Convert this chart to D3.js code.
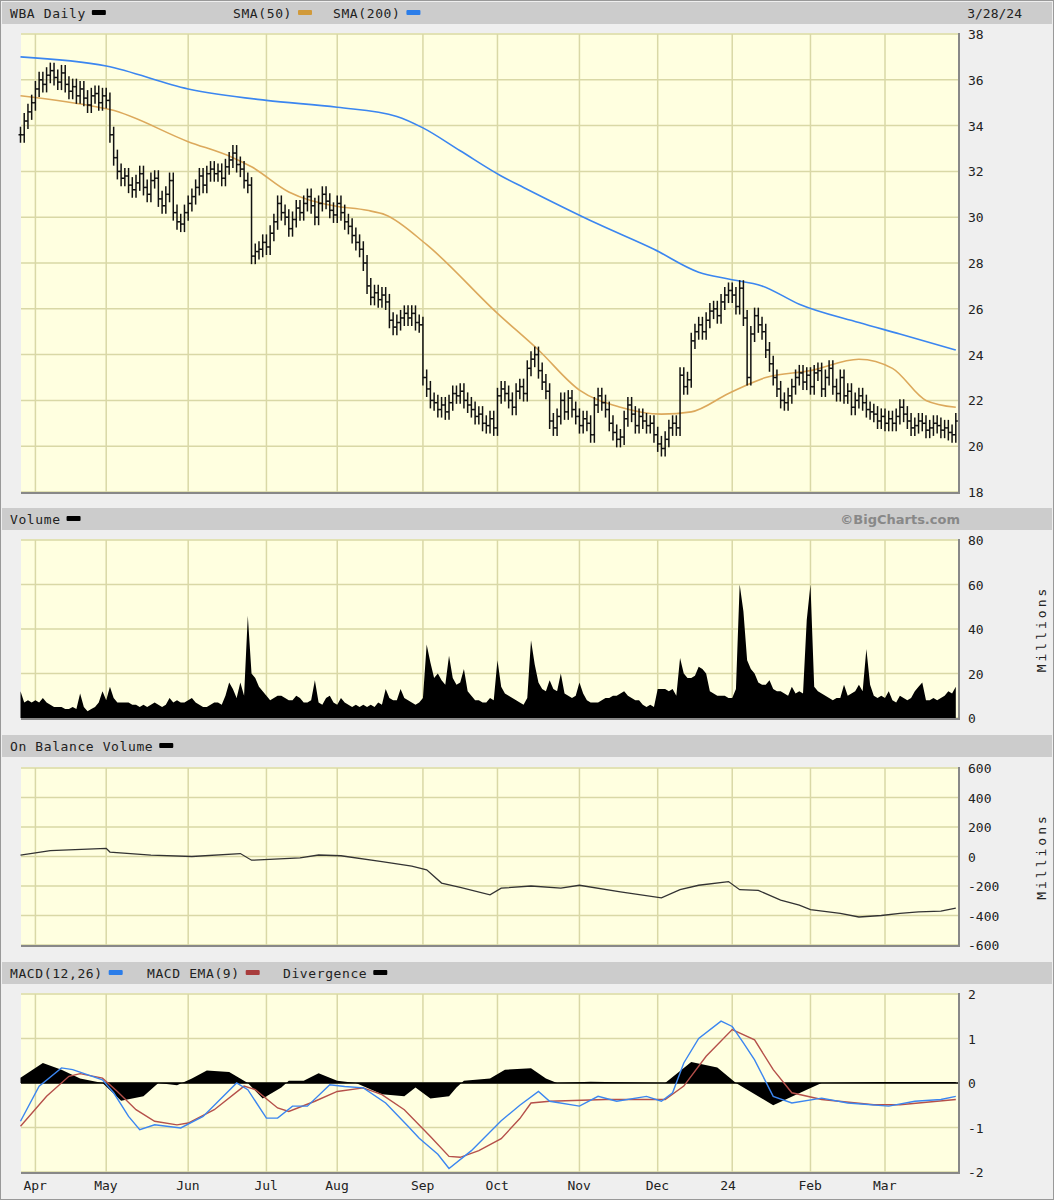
<!DOCTYPE html>
<html><head><meta charset="utf-8">
<script src="https://cdn.jsdelivr.net/npm/d3@7"></script>
<style>
body { margin:0; background:#fff; }
text { font-family: "DejaVu Sans Mono", monospace; font-size:13px; fill:#222; }
</style></head>
<body>
<svg id="chart" width="1054" height="1200"></svg>
<script>
// month tick labels and the trading-day index where each month starts
var monthLabels = ["Apr","May","Jun","Jul","Aug","Sep","Oct","Nov","Dec","24","Feb","Mar"];
var monthDays = [4,23,45,66,85,108,128,150,171,191,212,232];

// daily closes, Mar 28 2023 .. Mar 28 2024
var closes = [
  33.6,34.2,34.6,35.0,
  35.6,36.0,35.8,36.2,36.4,36.1,35.9,36.3,35.8,35.5,35.7,35.3,35.6,35.2,34.9,35.3,35.4,35.0,35.3,
  35.1,33.6,32.6,32.0,31.7,31.8,31.4,31.2,31.5,31.9,31.3,31.0,31.6,31.7,30.8,30.5,31.0,31.6,30.2,29.8,29.7,30.2,
  30.6,30.9,31.3,31.8,31.4,31.9,32.1,31.9,32.0,31.7,32.2,32.5,32.8,32.3,32.1,31.6,31.4,28.3,28.5,28.6,28.9,
  28.7,29.3,29.8,30.6,30.2,30.0,29.5,29.9,30.4,30.2,30.6,30.9,30.5,30.0,30.6,31.0,30.7,30.3,30.1,
  30.6,30.2,29.8,29.6,29.2,28.9,28.6,28.0,27.0,26.5,26.7,26.4,26.6,26.3,25.5,25.2,25.4,25.6,25.8,25.6,25.8,25.4,25.3,
  23.0,22.5,22.0,21.9,21.6,21.8,21.5,21.9,22.3,22.2,22.4,22.0,21.8,21.6,21.3,21.4,21.0,20.9,21.2,20.8,
  22.2,22.5,22.3,22.0,21.7,22.4,22.6,22.3,23.4,23.8,24.0,23.3,22.8,22.4,21.1,20.8,21.3,22.0,21.5,22.1,21.6,21.3,
  20.9,21.2,21.0,20.5,21.8,22.2,21.9,21.6,21.0,20.6,20.3,20.4,21.2,21.8,21.4,20.9,21.3,21.1,20.9,21.0,20.5,
  20.1,19.9,20.3,20.8,21.0,20.8,23.1,22.6,22.9,24.6,25.0,25.3,25.0,25.5,25.9,26.0,25.7,26.3,26.6,26.8,
  26.6,26.1,26.9,25.6,23.0,24.9,25.7,25.3,25.0,24.2,23.6,23.0,22.5,22.0,21.9,22.2,22.6,23.0,23.2,22.8,23.1,
  22.6,23.2,23.3,22.5,23.0,23.4,22.6,22.3,23.0,22.2,22.4,21.7,22.0,22.2,21.9,21.6,21.5,21.4,21.1,21.3,
  21.0,21.2,21.0,21.3,21.7,21.4,21.1,20.8,20.9,21.1,21.0,20.7,20.8,21.0,20.9,20.7,20.8,20.6,20.5,21.1
];
var wick = 0.35;

// daily volume, millions
var volumes = [
  12,7,8,7,
  8,7,9,7,6,5,5,5,4,4,5,4,11,5,3,4,5,7,12,
  8,14,9,7,7,7,7,6,6,5,6,5,6,7,6,5,6,9,7,8,7,7,
  8,9,7,6,5,5,6,7,7,6,10,16,13,9,16,10,46,20,18,14,12,
  10,8,9,10,10,9,8,8,10,9,7,7,8,17,7,6,9,10,7,
  6,9,7,6,5,6,5,6,5,6,5,7,6,13,9,8,8,13,9,8,7,6,7,
  9,33,25,18,20,17,15,28,18,15,16,22,12,10,8,8,7,7,9,8,
  26,14,11,10,9,8,7,6,9,35,24,16,13,12,17,13,12,20,11,10,9,10,
  16,11,8,7,7,7,8,9,9,10,10,11,12,10,9,8,8,6,5,6,5,
  13,13,13,12,13,10,27,20,18,18,19,23,22,20,12,11,10,10,10,9,
  9,13,60,48,26,22,20,16,15,15,17,13,12,12,11,10,14,11,12,11,44,
  60,14,12,11,10,9,8,9,9,15,10,11,12,15,12,31,15,10,9,10,
  9,12,8,7,10,9,8,9,12,14,16,8,8,9,8,9,10,12,11,14
];

// [day, value] readings
var sma50 = [[0,35.3],[21,34.8],[24,34.7],[45,33.3],[57,32.6],[62,32.2],[72,31.1],[84,30.5],[93,30.3],[98,30.1],[109,28.8],[128,25.8],[139,24.2],[150,22.45],[161,21.7],[172,21.4],[180,21.5],[190,22.3],[200,23.0],[212,23.3],[225,23.8],[234,23.4],[243,22.0],[251,21.7]];
var sma200 = [[0,37.0],[23,36.6],[45,35.6],[66,35.1],[85,34.8],[101,34.4],[108,33.9],[118,32.9],[129,31.8],[135,31.3],[155,29.7],[170,28.6],[182,27.6],[190,27.3],[199,27.0],[209,26.2],[225,25.4],[236,24.9],[251,24.2]];
var obv = [[0,10],[8,40],[23,55],[24,30],[35,10],[46,0],[59,20],[62,-25],[75,-10],[80,10],[86,5],[97,-35],[105,-65],[109,-90],[113,-180],[118,-210],[126,-260],[129,-215],[137,-200],[145,-215],[150,-195],[161,-240],[172,-280],[177,-225],[182,-195],[190,-170],[193,-225],[198,-230],[204,-295],[209,-330],[212,-360],[220,-385],[225,-410],[231,-400],[236,-385],[241,-375],[247,-370],[251,-350]];
var macd = [[0,-0.86],[5,-0.07],[11,0.34],[14,0.3],[22,0.07],[25,-0.22],[29,-0.75],[32,-1.05],[36,-0.94],[43,-1.01],[49,-0.75],[58,0],[61,-0.15],[66,-0.79],[69,-0.79],[73,-0.52],[77,-0.52],[83,-0.04],[87,-0.08],[92,-0.11],[98,-0.45],[104,-0.97],[107,-1.24],[112,-1.6],[115,-1.92],[121,-1.52],[129,-0.85],[134,-0.5],[139,-0.19],[142,-0.41],[150,-0.52],[155,-0.3],[160,-0.41],[168,-0.3],[172,-0.41],[175,-0.22],[178,0.45],[182,1.0],[188,1.39],[191,1.27],[194,0.9],[197,0.52],[202,-0.3],[207,-0.45],[215,-0.34],[222,-0.45],[233,-0.52],[240,-0.41],[247,-0.37],[251,-0.3]];
var macdEma = [[0,-0.97],[7,-0.3],[13,0.15],[16,0.21],[22,0.11],[26,-0.19],[31,-0.6],[36,-0.86],[42,-0.94],[45,-0.9],[52,-0.6],[60,-0.07],[63,-0.15],[69,-0.56],[72,-0.64],[79,-0.41],[85,-0.19],[92,-0.11],[97,-0.26],[103,-0.6],[110,-1.2],[115,-1.65],[118,-1.67],[123,-1.52],[129,-1.25],[134,-0.8],[137,-0.45],[142,-0.41],[157,-0.37],[173,-0.37],[178,-0.07],[184,0.6],[191,1.2],[197,0.97],[202,0.3],[207,-0.22],[215,-0.37],[229,-0.49],[236,-0.49],[251,-0.37]];
var divergence = [[0,0.12],[6,0.45],[11,0.3],[16,0.1],[22,0],[27,-0.4],[33,-0.3],[37,0],[42,-0.05],[46,0.1],[50,0.28],[56,0.25],[61,0],[65,-0.35],[70,-0.1],[72,0.05],[76,0.05],[80,0.22],[85,0.05],[90,0],[97,-0.25],[103,-0.3],[106,-0.1],[110,-0.35],[115,-0.3],[117,-0.1],[119,0.05],[126,0.1],[130,0.3],[137,0.33],[141,0.1],[144,0],[153,0.03],[173,0],[180,0.47],[187,0.35],[192,0],[202,-0.5],[211,-0.15],[215,0],[231,0.02],[251,0.02]];

var svg = d3.select("#chart");
var L = 21, R = 958;
var x = d3.scaleLinear().domain([0, 251]).range([20.5, 955.8]);

svg.append("rect").attr("width",1054).attr("height",1200).attr("fill","#efefef");
svg.append("rect").attr("x",0.5).attr("y",0.5).attr("width",1053).attr("height",1199).attr("fill","none").attr("stroke","#999");

// items: label, swatch colour, x where the label starts
function header(y, items, rightText) {
  svg.append("rect").attr("x",2).attr("y",y).attr("width",1050).attr("height",22).attr("fill","#cccccc");
  items.forEach(function(it) {
    var t = svg.append("text").attr("x",it.at).attr("y",y+16).attr("letter-spacing","0.6").text(it.label);
    var cx = it.at + t.node().getComputedTextLength() + 6;
    svg.append("rect").attr("x",cx).attr("y",y+8).attr("width",14).attr("height",5).attr("rx",1).attr("fill",it.color);
  });
  if (rightText) svg.append("text").attr("x",1022).attr("y",y+16).attr("text-anchor","end").text(rightText);
}

function panel(top, bottom, domain, ticks, fmt, millions) {
  var y = d3.scaleLinear().domain(domain).range([bottom, top]);
  svg.append("rect").attr("x",L).attr("y",top-1).attr("width",R-L).attr("height",bottom-top+2).attr("fill","#ffffe0");
  var g = svg.append("g");
  g.selectAll(".hg").data(ticks).join("line")
    .attr("x1",L).attr("x2",R).attr("y1",function(d){return y(d);}).attr("y2",function(d){return y(d);})
    .attr("stroke","#d9d8a6").attr("stroke-width",1.5);
  g.selectAll(".vg").data(monthDays).join("line")
    .attr("x1",function(d){return x(d);}).attr("x2",function(d){return x(d);}).attr("y1",top).attr("y2",bottom)
    .attr("stroke","#d9d8a6").attr("stroke-width",1.5);
  svg.append("line").attr("x1",L).attr("x2",R).attr("y1",bottom+1).attr("y2",bottom+1).attr("stroke","#888").attr("stroke-width",2);
  svg.append("line").attr("x1",R+1).attr("x2",R+1).attr("y1",top-1).attr("y2",bottom+2).attr("stroke","#888").attr("stroke-width",2);
  svg.append("g").selectAll("text").data(ticks).join("text")
    .attr("x",968).attr("y",function(d){return y(d)+5;}).text(fmt);
  if (millions) {
    svg.append("text").attr("transform","translate(1046,"+((top+bottom)/2)+") rotate(-90)")
      .attr("text-anchor","middle").attr("letter-spacing","3").text("Millions");
  }
  return y;
}

// ---- price panel
header(2, [{label:"WBA Daily", color:"#000", at:10},{label:"SMA(50)", color:"#d19a3a", at:233},{label:"SMA(200)", color:"#2b7de9", at:333}], "3/28/24");
var yP = panel(34, 492, [18, 38], d3.range(18, 39, 2), function(d){return d;});
var line = d3.line().x(function(d){return x(d[0]);}).y(function(d){return yP(d[1]);}).curve(d3.curveMonotoneX);
svg.append("path").datum(sma200).attr("d",line).attr("fill","none").attr("stroke","#3b86f0").attr("stroke-width",1.6);
svg.append("path").datum(sma50).attr("d",line).attr("fill","none").attr("stroke","#dca95c").attr("stroke-width",1.6);

var bars = closes.map(function(c, i) {
  var o = i > 0 ? closes[i-1] : c;
  return {i:i, o:o, c:c, h:Math.max(o,c)+wick, l:Math.min(o,c)-wick};
});
var bg = svg.append("g").attr("stroke","#111").attr("stroke-width",1.5);
bg.selectAll(".hl").data(bars).join("line")
  .attr("x1",function(d){return x(d.i);}).attr("x2",function(d){return x(d.i);})
  .attr("y1",function(d){return yP(d.h);}).attr("y2",function(d){return yP(d.l);});
bg.selectAll(".op").data(bars).join("line")
  .attr("x1",function(d){return x(d.i)-2;}).attr("x2",function(d){return x(d.i);})
  .attr("y1",function(d){return yP(d.o);}).attr("y2",function(d){return yP(d.o);});
bg.selectAll(".cl").data(bars).join("line")
  .attr("x1",function(d){return x(d.i);}).attr("x2",function(d){return x(d.i)+2;})
  .attr("y1",function(d){return yP(d.c);}).attr("y2",function(d){return yP(d.c);});

// ---- volume
header(508, [{label:"Volume", color:"#000", at:10}]);
svg.append("text").attr("x",960).attr("y",524).attr("text-anchor","end").attr("font-weight","bold")
  .style("font-family","'DejaVu Sans', sans-serif").style("fill","#888").text("©BigCharts.com");
var yV = panel(540, 718, [0, 80], [0,20,40,60,80], function(d){return d;}, true);
svg.append("path").datum(volumes)
  .attr("d", d3.area().x(function(d,i){return x(i);}).y0(yV(0)).y1(function(d){return yV(d);}))
  .attr("fill","#000");

// ---- on balance volume
header(735, [{label:"On Balance Volume", color:"#000", at:10}]);
var yO = panel(768, 945, [-600, 600], [-600,-400,-200,0,200,400,600], function(d){return d;}, true);
svg.append("path").datum(obv)
  .attr("d", d3.line().x(function(d){return x(d[0]);}).y(function(d){return yO(d[1]);}))
  .attr("fill","none").attr("stroke","#333").attr("stroke-width",1.3);

// ---- MACD
header(962, [{label:"MACD(12,26)", color:"#2b7de9", at:10},{label:"MACD EMA(9)", color:"#a83c3c", at:147},{label:"Divergence", color:"#000", at:283}]);
var yM = panel(994, 1172, [-2, 2], [-2,-1,0,1,2], function(d){return d;});
svg.append("path").datum(divergence)
  .attr("d", d3.area().x(function(d){return x(d[0]);}).y0(yM(0)).y1(function(d){return yM(d[1]);}))
  .attr("fill","#000");
svg.append("line").attr("x1",L).attr("x2",R).attr("y1",yM(0)).attr("y2",yM(0)).attr("stroke","#000").attr("stroke-width",1.5);
var mline = d3.line().x(function(d){return x(d[0]);}).y(function(d){return yM(d[1]);});
svg.append("path").datum(macdEma).attr("d",mline).attr("fill","none").attr("stroke","#b5504a").attr("stroke-width",1.4);
svg.append("path").datum(macd).attr("d",mline).attr("fill","none").attr("stroke","#3b86f0").attr("stroke-width",1.4);

// ---- month axis
svg.append("g").selectAll("text").data(monthDays).join("text")
  .attr("x",function(d){return x(d)-12;}).attr("y",1190)
  .text(function(d,i){return monthLabels[i];});
</script>
</body></html>
